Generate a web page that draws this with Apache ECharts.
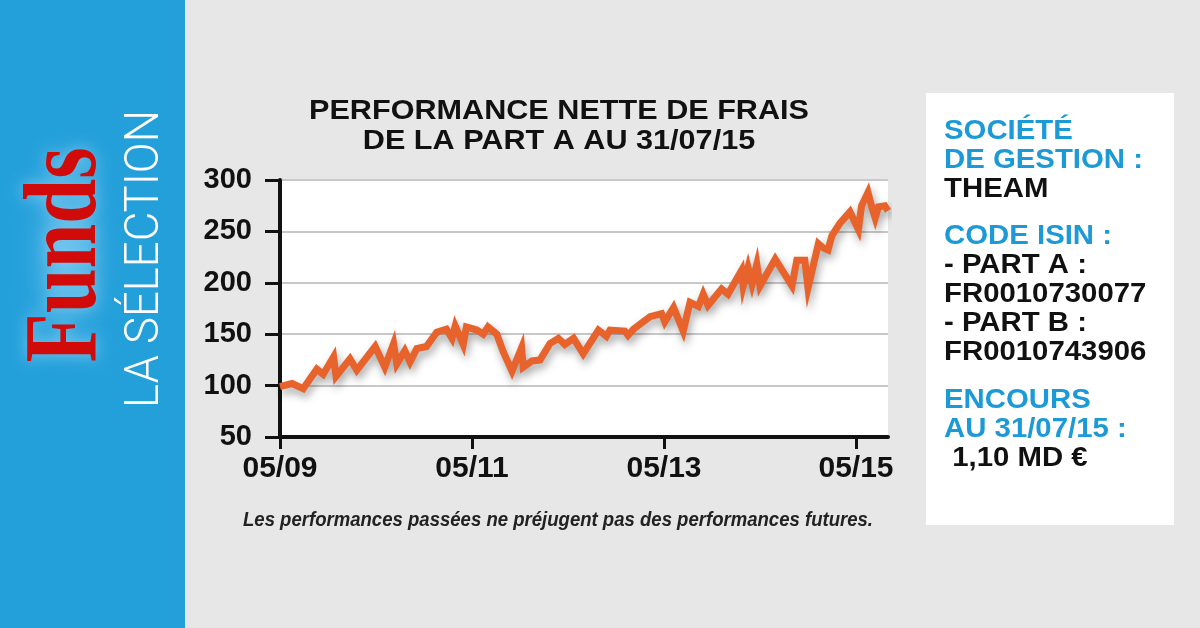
<!DOCTYPE html>
<html>
<head>
<meta charset="utf-8">
<script src="https://cdn.jsdelivr.net/npm/echarts@6/dist/echarts.min.js"></script>
<style>
  body { margin: 0; background: #e7e7e7; }
  #chart { width: 1200px; height: 628px; }
</style>
</head>
<body>
<div id="chart"></div>
<script>
// months since 05/2009 and net performance (base 100)
const months = [0, 1.5, 2.9, 4.6, 5.4, 6.7, 7.0, 8.75, 9.6, 11.9, 13.1, 14.2, 14.6, 15.6, 16.25, 17.1, 18.3, 19.6, 20.8, 21.5, 21.9, 22.9, 23.3, 24.6, 25.4, 26.0, 27.1, 27.9, 29.0, 30.2, 30.4, 31.5, 32.5, 33.75, 34.8, 35.6, 36.7, 37.9, 39.8, 40.8, 41.25, 43.1, 43.5, 44.2, 46.25, 47.7, 48.1, 49.2, 50.4, 51.25, 52.3, 52.9, 53.5, 55.2, 56.0, 57.7, 57.9, 58.5, 59.0, 59.6, 60.0, 61.9, 64.0, 64.6, 65.6, 66.0, 67.3, 67.9, 68.5, 69.0, 70.0, 71.25, 72.3, 72.7, 73.5, 74.0, 74.4, 74.8, 75.6, 76.0];
const perf = [99, 102, 97, 116, 111, 128, 109, 126, 115, 138, 118, 141, 121, 134, 123, 136, 138, 152, 155, 146, 158, 140, 157, 154, 150, 157, 150, 133, 114, 137, 118, 124, 125, 141, 146, 140, 146, 131, 154, 148, 154, 153, 149, 155, 167, 170, 162, 176, 153, 181, 177, 189, 178, 194, 189, 212, 197, 215, 199, 218, 197, 223, 197, 222, 222, 195, 238, 234, 232, 246, 258, 269, 252, 275, 288, 273, 263, 274, 275, 270];
const xTicks = [0, 24, 48, 72];
const xTickLabels = ['05/09', '05/11', '05/13', '05/15'];

const titleLines = ['PERFORMANCE NETTE DE FRAIS', 'DE LA PART A AU 31/07/15'];
const note = 'Les performances passées ne préjugent pas des performances futures.';
const panelBlocks = [
  { head: ['SOCIÉTÉ', 'DE GESTION :'], body: ['THEAM'] },
  { head: ['CODE ISIN :'], body: ['- PART A :', 'FR0010730077', '- PART B :', 'FR0010743906'] },
  { head: ['ENCOURS', 'AU 31/07/15 :'], body: [' 1,10 MD €'] }
];

// horizontal scale so a text fits a given width
const ctx = document.createElement('canvas').getContext('2d');
function fit(text, font, width) {
  ctx.font = font;
  return width / ctx.measureText(text).width;
}

const titleFont = 'bold 28px "Liberation Sans", Arial, sans-serif';
const titleScale = fit(titleLines[0], titleFont, 500);
const noteFont = 'italic bold 21px "Liberation Sans Narrow", "Liberation Sans", sans-serif';
const fundsFont = 'bold 104px "Liberation Serif", "DejaVu Serif", serif';
const selFont = '300 49px Roboto, "Liberation Sans", sans-serif';
const panelFont = 'bold 27px "Liberation Sans", Arial, sans-serif';
const panelScale = fit('DE GESTION :', panelFont, 199);

const graphics = [
  { type: 'rect', shape: { x: 0, y: 0, width: 185, height: 628 }, style: { fill: '#239fda' }, z: -10 },
  { type: 'rect', shape: { x: 926, y: 93, width: 248, height: 432 }, style: { fill: '#ffffff' }, z: -10 },
  {
    type: 'circle', x: 66, y: 255, scaleY: 2.1, shape: { cx: 0, cy: 0, r: 62 }, z: -9,
    style: {
      fill: {
        type: 'radial', x: 0.5, y: 0.5, r: 0.5,
        colorStops: [{ offset: 0, color: 'rgba(110,195,240,0.75)' }, { offset: 1, color: 'rgba(35,159,218,0)' }]
      }
    }
  },
  {
    type: 'text', x: 68, y: 255, rotation: Math.PI / 2,
    scaleX: fit('Funds', fundsFont, 215),
    style: { text: 'Funds', font: fundsFont, fill: '#d10a0a', align: 'center', verticalAlign: 'middle',
      textShadowColor: 'rgba(150,215,245,0.8)', textShadowBlur: 16 }
  },
  {
    type: 'text', x: 146, y: 259, rotation: Math.PI / 2,
    scaleX: fit('LA SÉLECTION', selFont, 298),
    style: { text: 'LA SÉLECTION', font: selFont, fill: '#ffffff', align: 'center', verticalAlign: 'middle' }
  },
  {
    type: 'text', x: 558, y: 520,
    scaleX: fit(note, noteFont, 630),
    style: { text: note, font: noteFont, fill: '#222', align: 'center', verticalAlign: 'middle' }
  }
];

titleLines.forEach((t, i) => {
  graphics.push({
    type: 'text', x: 559, y: 111 + i * 30.5, scaleX: titleScale,
    style: { text: t, font: titleFont, fill: '#111', align: 'center', verticalAlign: 'middle' }
  });
});

let py = 131.5;
panelBlocks.forEach((b, bi) => {
  if (bi > 0) py += 18.5;
  b.head.concat(b.body).forEach((t, li) => {
    graphics.push({
      type: 'text', x: 944, y: py, scaleX: panelScale,
      style: { text: t, font: panelFont,
        fill: li < b.head.length ? '#1b9ad7' : '#111', align: 'left', verticalAlign: 'middle' }
    });
    py += 29;
  });
});

const chart = echarts.init(document.getElementById('chart'));
chart.setOption({
  backgroundColor: '#e7e7e7',
  animation: false,
  graphic: graphics,
  grid: { left: 280, top: 180, right: 312, bottom: 191, show: true, backgroundColor: '#ffffff', borderWidth: 0 },
  xAxis: {
    type: 'value', min: 0, max: 76, interval: 24,
    axisLine: { show: true, lineStyle: { color: '#111', width: 4 } },
    axisTick: { show: true, length: 12, customValues: xTicks, lineStyle: { color: '#111', width: 3 } },
    axisLabel: {
      customValues: xTicks, margin: 17,
      formatter: v => xTickLabels[xTicks.indexOf(v)] || '',
      fontFamily: '"Liberation Sans", Arial, sans-serif', fontWeight: 'bold', fontSize: 30, color: '#111'
    },
    splitLine: { show: false }
  },
  yAxis: {
    type: 'value', min: 50, max: 300, interval: 50,
    axisLine: { show: true, lineStyle: { color: '#111', width: 4 } },
    axisTick: { show: true, length: 15, lineStyle: { color: '#111', width: 3 } },
    axisLabel: {
      margin: 28, fontFamily: '"Liberation Sans", Arial, sans-serif', fontWeight: 'bold', fontSize: 29, color: '#111'
    },
    splitLine: { show: true, lineStyle: { color: '#c8c8c8', width: 2 } }
  },
  series: [{
    type: 'line',
    data: months.map((m, i) => [m, perf[i]]),
    showSymbol: false,
    lineStyle: { color: '#e8632b', width: 7, join: 'miter',
      shadowColor: 'rgba(0,0,0,0.35)', shadowBlur: 8, shadowOffsetX: 2, shadowOffsetY: 5 }
  }]
});
</script>
</body>
</html>
